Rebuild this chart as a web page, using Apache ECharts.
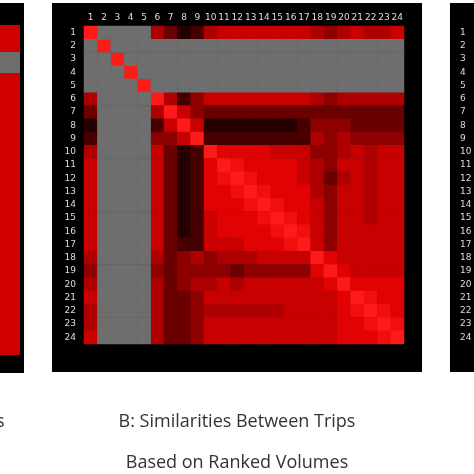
<!DOCTYPE html>
<html><head><meta charset="utf-8">
<script src="https://cdn.jsdelivr.net/npm/echarts@6/dist/echarts.min.js"></script>
<style>html,body{margin:0;padding:0;background:#fff}#c{width:474px;height:474px}</style>
</head><body><div id="c"></div>
<script>
const labels = Array.from({length:24},(_,i)=>String(i+1));
// lower triangle of similarity matrix (0 = black .. 9 = full red), g = no data (gray)
const lowerRows = [
"9",
"g 9",
"g g 9",
"g g g 9",
"g g g g 9",
"5 g g g g 9",
"3 g g g g 5 9",
"1 g g g g 2 6 9",
"2 g g g g 4 4 6 9",
"5 g g g g 6 3 1 2 9",
"6 g g g g 6 3 1 2 7 9",
"6 g g g g 6 3 1 2 7 8 9",
"6 g g g g 6 3 1 2 7 7 8 9",
"6 g g g g 6 3 1 2 7 7 7 8 9",
"6 g g g g 6 3 1 2 6 7 7 7 8 9",
"6 g g g g 6 3 1 2 6 7 7 7 7 8 9",
"6 g g g g 6 3 2 2 6 6 6 7 7 7 8 9",
"5 g g g g 5 3 4 5 4 5 5 5 6 6 6 6 9",
"4 g g g g 4 3 4 4 4 4 3 4 4 4 4 4 7 9",
"5 g g g g 5 3 4 5 5 6 5 6 6 6 6 6 6 7 9",
"6 g g g g 5 3 3 4 6 6 6 6 6 6 6 6 6 6 7 9",
"5 g g g g 5 3 3 4 5 5 5 5 5 5 6 6 6 6 7 8 9",
"5 g g g g 5 3 3 4 6 6 6 6 6 6 6 6 6 6 7 7 8 9",
"6 g g g g 5 3 3 4 6 6 6 6 6 6 6 6 6 6 7 7 7 8 9"
];
const tri = lowerRows.map(r=>r.split(' '));
const vals=[], grays=[];
for(let i=0;i<24;i++)for(let j=0;j<24;j++){
  const v = j<=i ? tri[i][j] : tri[j][i];
  if(v==='g') grays.push([j,i,0]); else vals.push([j,i,+v]);
}
const chart = echarts.init(document.getElementById('c'));
const lab = {color:'#ddd',fontSize:9,fontFamily:'DejaVu Sans'};
chart.setOption({
  animation:false,
  backgroundColor:'#fff',
  graphic:[
    {type:'rect',shape:{x:52,y:3,width:370,height:369},style:{fill:'#000'},z:-10},
    {type:'rect',shape:{x:0,y:3,width:24,height:370},style:{fill:'#000'},z:-10},
    {type:'rect',shape:{x:0,y:25,width:20,height:330},style:{fill:'#d00000'},z:-9},
    {type:'rect',shape:{x:0,y:52,width:20,height:21},style:{fill:'#6e6e6e'},z:-8},
    {type:'rect',shape:{x:450,y:3,width:24,height:369},style:{fill:'#000'},z:-10},
    {type:'text',x:237,y:422,style:{text:'B: Similarities Between Trips',fill:'#333',font:'18px "Open Sans"',textAlign:'center',textVerticalAlign:'middle'}},
    {type:'text',x:237,y:463,style:{text:'Based on Ranked Volumes',fill:'#333',font:'18px "Open Sans"',textAlign:'center',textVerticalAlign:'middle'}},
    {type:'text',x:-4,y:422,style:{text:'s',fill:'#333',font:'18px "Open Sans"',textVerticalAlign:'middle'}}
  ],
  grid:[{left:84,top:26,width:320,height:318},{left:472,top:26,width:2,height:318}],
  xAxis:[{type:'category',data:labels,position:'top',gridIndex:0,axisLine:{show:false},axisTick:{show:false},axisLabel:Object.assign({margin:4,interval:0},lab),splitLine:{show:false}},
         {type:'category',data:labels,gridIndex:1,show:false}],
  yAxis:[{type:'category',data:labels,inverse:true,gridIndex:0,axisLine:{show:false},axisTick:{show:false},axisLabel:Object.assign({margin:8,interval:0},lab)},
         {type:'category',data:labels,inverse:true,gridIndex:1,axisLine:{show:false},axisTick:{show:false},axisLabel:Object.assign({},lab,{margin:12,interval:0,align:'left'})}],
  visualMap:{show:false,min:0,max:9,seriesIndex:0,inRange:{color:['#000000','#500000','#a00000','#dd0000','#ff1a1a']}},
  series:[
    {type:'heatmap',data:vals,xAxisIndex:0,yAxisIndex:0},
    {type:'heatmap',data:grays,xAxisIndex:0,yAxisIndex:0,itemStyle:{color:'#6e6e6e'}}
  ]
});
</script></body></html>
